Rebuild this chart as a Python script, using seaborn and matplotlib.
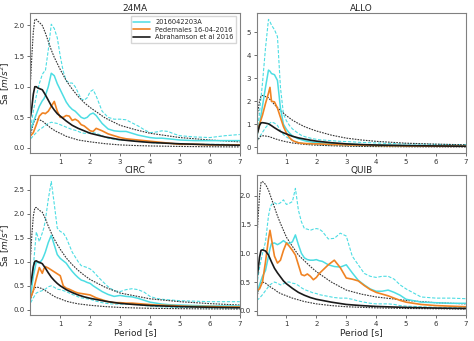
import numpy as np
import pandas as pd
import matplotlib
matplotlib.use("Agg")
import matplotlib.pyplot as plt
import seaborn as sns

stations = ["24MA", "ALLO", "CIRC", "QUIB"]

# observed spectra period grid [s]
T_obs = [0.01, 0.1, 0.2, 0.3, 0.4, 0.45, 0.5, 0.6, 0.7, 0.8, 0.9, 1.0, 1.1, 1.2, 1.3, 1.4,
         1.5, 1.6, 1.7, 1.8, 1.9, 2.0, 2.1, 2.2, 2.4, 2.6, 2.8, 3.0, 3.2, 3.4, 3.6, 3.8,
         4.0, 4.2, 4.4, 4.6, 4.8, 5.0, 5.5, 6.0, 6.5, 7.0]

# model (Abrahamson et al 2016) period grid [s]
T_mod = [0.01, 0.05, 0.1, 0.15, 0.2, 0.25, 0.3, 0.4, 0.5, 0.6, 0.7, 0.8, 0.9, 1.0, 1.2,
         1.4, 1.6, 1.8, 2.0, 2.5, 3.0, 3.5, 4.0, 5.0, 6.0, 7.0]

# ---- 24MA ----
ma24_ev_mean = [0.30, 0.42, 0.55, 0.68, 0.77, 0.80, 0.85, 1.00, 1.22, 1.18, 1.05, 0.95, 0.85, 0.75,
                0.68, 0.63, 0.60, 0.55, 0.50, 0.48, 0.50, 0.55, 0.57, 0.53, 0.40, 0.31, 0.28, 0.27,
                0.27, 0.24, 0.21, 0.19, 0.17, 0.16, 0.16, 0.15, 0.14, 0.13, 0.12, 0.12, 0.12, 0.12]
ma24_ev_up = [0.33, 0.60, 0.85, 1.05, 1.20, 1.24, 1.25, 1.60, 2.02, 1.95, 1.80, 1.50, 1.25, 1.10,
              1.06, 1.06, 1.00, 0.90, 0.80, 0.78, 0.82, 0.92, 0.95, 0.85, 0.60, 0.50, 0.47, 0.47,
              0.46, 0.41, 0.36, 0.30, 0.25, 0.26, 0.28, 0.27, 0.23, 0.20, 0.18, 0.17, 0.20, 0.22]
ma24_ev_lo = [0.15, 0.20, 0.25, 0.30, 0.33, 0.35, 0.37, 0.40, 0.42, 0.41, 0.40, 0.38, 0.36, 0.34,
              0.32, 0.30, 0.29, 0.27, 0.25, 0.24, 0.24, 0.25, 0.25, 0.24, 0.20, 0.16, 0.14, 0.13,
              0.13, 0.12, 0.11, 0.10, 0.09, 0.08, 0.08, 0.08, 0.07, 0.07, 0.06, 0.06, 0.06, 0.05]
ma24_ped = [0.20, 0.25, 0.38, 0.52, 0.57, 0.57, 0.56, 0.60, 0.68, 0.76, 0.60, 0.50, 0.50, 0.53,
            0.52, 0.45, 0.47, 0.44, 0.38, 0.36, 0.32, 0.28, 0.27, 0.32, 0.28, 0.23, 0.20, 0.17,
            0.15, 0.14, 0.13, 0.12, 0.11, 0.10, 0.09, 0.08, 0.07, 0.06, 0.06, 0.05, 0.05, 0.05]
ma24_mod = [0.52, 0.66, 0.88, 1.00, 1.00, 0.98, 0.97, 0.95, 0.87, 0.78, 0.69, 0.62, 0.56, 0.52,
            0.44, 0.37, 0.32, 0.28, 0.24, 0.18, 0.135, 0.11, 0.09, 0.068, 0.054, 0.044]
ma24_mod_up = [1.12, 1.50, 1.90, 2.10, 2.10, 2.07, 2.05, 2.00, 1.88, 1.74, 1.60, 1.48, 1.38, 1.28,
               1.10, 0.96, 0.84, 0.74, 0.66, 0.49, 0.37, 0.30, 0.24, 0.17, 0.13, 0.10]
ma24_mod_lo = [0.24, 0.30, 0.40, 0.46, 0.47, 0.47, 0.46, 0.44, 0.40, 0.36, 0.32, 0.29, 0.26, 0.24,
               0.19, 0.16, 0.13, 0.115, 0.10, 0.07, 0.05, 0.04, 0.033, 0.025, 0.02, 0.017]

# ---- ALLO ----
allo_ev_mean = [0.45, 1.00, 1.80, 2.60, 3.35, 3.30, 3.20, 3.15, 2.90, 1.70, 1.00, 0.78, 0.62, 0.50,
                0.43, 0.37, 0.33, 0.29, 0.26, 0.24, 0.22, 0.21, 0.20, 0.19, 0.17, 0.16, 0.15, 0.14,
                0.13, 0.12, 0.11, 0.10, 0.10, 0.09, 0.09, 0.08, 0.08, 0.08, 0.07, 0.07, 0.06, 0.06]
allo_ev_up = [0.50, 1.50, 2.80, 4.30, 5.55, 5.45, 5.30, 5.10, 4.80, 2.60, 1.45, 1.15, 0.95, 0.80,
              0.70, 0.60, 0.52, 0.47, 0.43, 0.40, 0.37, 0.35, 0.33, 0.32, 0.30, 0.28, 0.26, 0.25,
              0.24, 0.22, 0.21, 0.20, 0.19, 0.18, 0.17, 0.16, 0.15, 0.15, 0.14, 0.13, 0.12, 0.12]
allo_ev_lo = [0.30, 0.45, 0.65, 0.85, 1.00, 1.05, 1.10, 1.05, 0.95, 0.72, 0.55, 0.45, 0.37, 0.30,
              0.26, 0.22, 0.19, 0.17, 0.15, 0.14, 0.13, 0.12, 0.11, 0.11, 0.10, 0.09, 0.08, 0.08,
              0.07, 0.07, 0.06, 0.06, 0.05, 0.05, 0.05, 0.05, 0.05, 0.04, 0.04, 0.04, 0.04, 0.04]
allo_ped = [0.55, 1.00, 1.40, 1.90, 2.35, 2.60, 2.00, 1.97, 1.70, 1.30, 0.90, 0.62, 0.42, 0.30,
            0.24, 0.20, 0.18, 0.17, 0.16, 0.16, 0.15, 0.15, 0.15, 0.14, 0.13, 0.12, 0.12, 0.11,
            0.10, 0.10, 0.09, 0.09, 0.08, 0.08, 0.07, 0.07, 0.07, 0.06, 0.06, 0.05, 0.05, 0.05]
allo_mod = [0.55, 0.70, 0.95, 1.06, 1.07, 1.06, 1.05, 1.02, 0.94, 0.85, 0.77, 0.69, 0.63, 0.58,
            0.48, 0.41, 0.36, 0.31, 0.27, 0.20, 0.15, 0.12, 0.10, 0.075, 0.06, 0.048]
allo_mod_up = [1.20, 1.60, 2.00, 2.22, 2.25, 2.23, 2.20, 2.15, 2.00, 1.86, 1.72, 1.60, 1.48, 1.37,
               1.18, 1.03, 0.90, 0.80, 0.71, 0.53, 0.40, 0.32, 0.26, 0.18, 0.14, 0.11]
allo_mod_lo = [0.25, 0.32, 0.43, 0.49, 0.50, 0.50, 0.49, 0.47, 0.43, 0.38, 0.34, 0.30, 0.27, 0.24,
               0.19, 0.16, 0.13, 0.11, 0.095, 0.07, 0.05, 0.04, 0.034, 0.025, 0.021, 0.018]

# ---- CIRC ----
circ_ev_mean = [0.30, 0.70, 1.00, 0.97, 1.05, 1.12, 1.20, 1.40, 1.55, 1.35, 1.15, 1.07, 1.02, 0.97,
                0.88, 0.80, 0.73, 0.67, 0.62, 0.60, 0.57, 0.55, 0.50, 0.46, 0.38, 0.32, 0.28, 0.30,
                0.28, 0.27, 0.24, 0.20, 0.16, 0.14, 0.12, 0.11, 0.10, 0.10, 0.09, 0.08, 0.08, 0.08]
circ_ev_up = [0.20, 0.90, 1.62, 1.42, 1.60, 1.70, 1.85, 2.30, 2.67, 2.20, 1.70, 1.63, 1.60, 1.50,
              1.35, 1.20, 1.10, 1.00, 0.92, 0.90, 0.88, 0.85, 0.80, 0.73, 0.60, 0.48, 0.40, 0.38,
              0.42, 0.44, 0.42, 0.37, 0.28, 0.24, 0.22, 0.21, 0.20, 0.19, 0.18, 0.17, 0.17, 0.17]
circ_ev_lo = [0.15, 0.25, 0.35, 0.38, 0.40, 0.42, 0.43, 0.48, 0.50, 0.47, 0.43, 0.42, 0.40, 0.38,
              0.35, 0.32, 0.30, 0.27, 0.25, 0.24, 0.23, 0.22, 0.20, 0.18, 0.15, 0.13, 0.12, 0.12,
              0.12, 0.12, 0.11, 0.09, 0.08, 0.07, 0.06, 0.06, 0.05, 0.05, 0.05, 0.04, 0.04, 0.04]
circ_ped = [0.25, 0.40, 0.65, 0.88, 0.76, 0.85, 0.90, 0.87, 0.83, 0.79, 0.75, 0.71, 0.50, 0.45,
            0.43, 0.40, 0.37, 0.35, 0.34, 0.33, 0.32, 0.31, 0.28, 0.25, 0.21, 0.17, 0.15, 0.15,
            0.14, 0.14, 0.13, 0.12, 0.11, 0.10, 0.10, 0.09, 0.09, 0.08, 0.07, 0.07, 0.06, 0.06]
circ_mod = [0.52, 0.68, 0.90, 1.01, 1.02, 1.00, 0.99, 0.96, 0.87, 0.77, 0.68, 0.61, 0.55, 0.50,
            0.42, 0.36, 0.31, 0.27, 0.24, 0.18, 0.135, 0.11, 0.09, 0.068, 0.054, 0.044]
circ_mod_up = [1.15, 1.55, 1.95, 2.12, 2.13, 2.10, 2.07, 2.03, 1.90, 1.74, 1.60, 1.47, 1.36, 1.26,
               1.08, 0.94, 0.82, 0.72, 0.63, 0.47, 0.35, 0.29, 0.23, 0.17, 0.13, 0.10]
circ_mod_lo = [0.24, 0.31, 0.41, 0.46, 0.47, 0.47, 0.46, 0.44, 0.40, 0.36, 0.32, 0.28, 0.25, 0.23,
               0.18, 0.15, 0.125, 0.11, 0.095, 0.068, 0.05, 0.04, 0.033, 0.025, 0.02, 0.017]

# ---- QUIB ----
quib_ev_mean = [0.30, 0.45, 0.60, 0.70, 0.95, 1.08, 1.17, 1.18, 1.15, 1.18, 1.22, 1.18, 1.17, 1.20,
                1.32, 1.15, 1.00, 0.92, 0.89, 0.88, 0.88, 0.89, 0.87, 0.86, 0.80, 0.77, 0.76, 0.80,
                0.66, 0.53, 0.45, 0.38, 0.34, 0.34, 0.36, 0.32, 0.27, 0.20, 0.15, 0.14, 0.13, 0.13]
quib_ev_up = [0.45, 0.75, 1.00, 1.20, 1.65, 1.78, 1.85, 1.88, 1.85, 1.88, 1.93, 1.85, 1.87, 1.90,
              2.13, 1.75, 1.55, 1.43, 1.42, 1.40, 1.42, 1.43, 1.42, 1.38, 1.25, 1.26, 1.35, 1.30,
              0.95, 0.80, 0.65, 0.60, 0.58, 0.60, 0.60, 0.55, 0.45, 0.38, 0.24, 0.22, 0.22, 0.21]
quib_ev_lo = [0.18, 0.22, 0.28, 0.35, 0.42, 0.45, 0.47, 0.50, 0.48, 0.45, 0.47, 0.50, 0.50, 0.48,
              0.47, 0.44, 0.40, 0.37, 0.35, 0.33, 0.31, 0.30, 0.28, 0.27, 0.25, 0.23, 0.22, 0.22,
              0.20, 0.17, 0.15, 0.13, 0.12, 0.12, 0.12, 0.11, 0.09, 0.08, 0.07, 0.06, 0.06, 0.06]
quib_ped = [0.35, 0.38, 0.50, 0.85, 1.25, 1.40, 1.25, 0.95, 0.83, 0.88, 1.05, 1.18, 1.12, 1.05,
            0.97, 0.80, 0.63, 0.61, 0.64, 0.60, 0.54, 0.58, 0.65, 0.70, 0.80, 0.88, 0.75, 0.57,
            0.55, 0.52, 0.44, 0.37, 0.32, 0.29, 0.26, 0.22, 0.18, 0.15, 0.11, 0.09, 0.08, 0.07]
quib_mod = [0.55, 0.70, 0.93, 1.05, 1.06, 1.05, 1.04, 0.97, 0.85, 0.74, 0.66, 0.59, 0.52, 0.47,
            0.39, 0.32, 0.27, 0.23, 0.20, 0.15, 0.11, 0.09, 0.075, 0.058, 0.047, 0.04]
quib_mod_up = [1.20, 1.60, 2.00, 2.23, 2.25, 2.22, 2.20, 2.10, 1.95, 1.80, 1.65, 1.52, 1.40, 1.28,
               1.12, 0.97, 0.87, 0.77, 0.68, 0.50, 0.36, 0.29, 0.24, 0.18, 0.14, 0.12]
quib_mod_lo = [0.24, 0.32, 0.43, 0.49, 0.50, 0.49, 0.48, 0.44, 0.40, 0.37, 0.33, 0.30, 0.28, 0.26,
               0.22, 0.19, 0.16, 0.14, 0.12, 0.09, 0.07, 0.06, 0.05, 0.04, 0.035, 0.03]

ev_mean = [ma24_ev_mean, allo_ev_mean, circ_ev_mean, quib_ev_mean]
ev_up = [ma24_ev_up, allo_ev_up, circ_ev_up, quib_ev_up]
ev_lo = [ma24_ev_lo, allo_ev_lo, circ_ev_lo, quib_ev_lo]
ped = [ma24_ped, allo_ped, circ_ped, quib_ped]
mod = [ma24_mod, allo_mod, circ_mod, quib_mod]
mod_up = [ma24_mod_up, allo_mod_up, circ_mod_up, quib_mod_up]
mod_lo = [ma24_mod_lo, allo_mod_lo, circ_mod_lo, quib_mod_lo]

legend_labels = ["2016042203A", "Pedernales 16-04-2016", "Abrahamson et al 2016"]

CYAN = "#4DDDE3"
ORANGE = "#F08323"
BLACK = "#1a1a1a"

sns.set_theme(style="ticks")
plt.rcParams.update({
    "font.family": ["DejaVu Sans"],
    "axes.edgecolor": "#808080",
    "axes.linewidth": 0.8,
    "xtick.color": "#555555",
    "ytick.color": "#555555",
    "xtick.labelcolor": "#333333",
    "ytick.labelcolor": "#333333",
    "xtick.labelsize": 5,
    "ytick.labelsize": 5,
    "xtick.major.size": 2.5,
    "ytick.major.size": 2.5,
    "xtick.major.width": 0.6,
    "ytick.major.width": 0.6,
})

fig, axes = plt.subplots(2, 2, figsize=(4.74, 3.41), dpi=100)
fig.subplots_adjust(left=0.064, right=0.983, top=0.962, bottom=0.075, wspace=0.08, hspace=0.155)

for i, ax in enumerate(axes.flat):
    sns.lineplot(x=T_obs, y=ev_up[i], ax=ax, color=CYAN, lw=0.8, linestyle=(0, (3, 1.5)))
    sns.lineplot(x=T_obs, y=ev_lo[i], ax=ax, color=CYAN, lw=0.8, linestyle=(0, (3, 1.5)))
    sns.lineplot(x=T_mod, y=mod_up[i], ax=ax, color="#333333", lw=0.8, linestyle=(0, (1.5, 1)))
    sns.lineplot(x=T_mod, y=mod_lo[i], ax=ax, color="#333333", lw=0.8, linestyle=(0, (1.5, 1)))
    sns.lineplot(x=T_obs, y=ev_mean[i], ax=ax, color=CYAN, lw=1.1, label=legend_labels[0])
    sns.lineplot(x=T_obs, y=ped[i], ax=ax, color=ORANGE, lw=1.2, label=legend_labels[1])
    sns.lineplot(x=T_mod, y=mod[i], ax=ax, color=BLACK, lw=1.2, label=legend_labels[2])
    ax.set_xlim(0, 7)
    ax.set_xticks([1, 2, 3, 4, 5, 6, 7])
    ax.set_title(stations[i], fontsize=6.5, pad=1.5)
    ax.tick_params(pad=1.5)
    if i % 2 == 0:
        ax.set_ylabel("Sa [$m/s^2$]", fontsize=6.5, labelpad=1)
    else:
        ax.set_ylabel("")
    if i >= 2:
        ax.set_xlabel("Period [s]", fontsize=6.5, labelpad=1)
    else:
        ax.set_xlabel("")
    if i == 0:
        ax.legend(loc="upper right", fontsize=4.8, frameon=True, borderpad=0.4,
                  handlelength=2.5, labelspacing=0.25, fancybox=False, edgecolor="#cccccc")
    else:
        lg = ax.get_legend()
        if lg is not None:
            lg.remove()

axes[0, 0].set_yticks([0.0, 0.5, 1.0, 1.5, 2.0])
axes[0, 1].set_yticks([0, 1, 2, 3, 4, 5])
axes[1, 0].set_yticks([0.0, 0.5, 1.0, 1.5, 2.0, 2.5])
axes[1, 1].set_yticks([0.0, 0.5, 1.0, 1.5, 2.0])

fig.savefig("out.png", dpi=100)
